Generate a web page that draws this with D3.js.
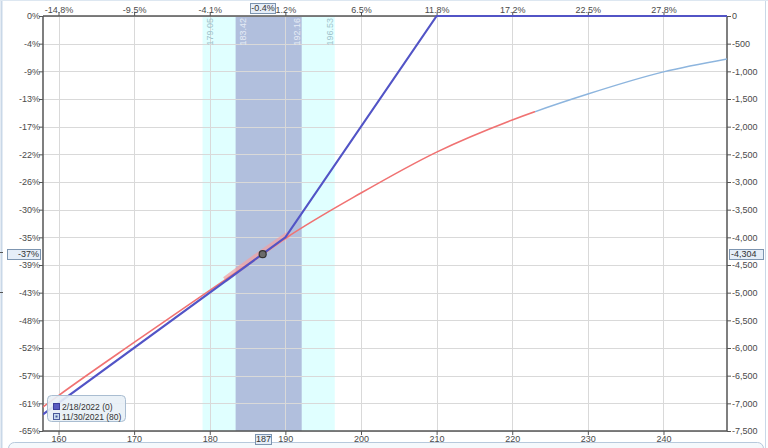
<!DOCTYPE html>
<html><head><meta charset="utf-8">
<script src="https://cdn.jsdelivr.net/npm/d3@7"></script>
<style>
html,body{margin:0;padding:0;background:#fff;}
svg{display:block;font-family:"Liberation Sans",Arial,sans-serif;}
</style></head>
<body><svg id="chart" width="768" height="448"></svg>
<script>
// ---- data ----
const xTicks = [160, 170, 180, 190, 200, 210, 220, 230, 240];
const topTickLabels = ["-14.8%", "-9.5%", "-4.1%", "1.2%", "6.5%", "11.8%", "17.2%", "22.5%", "27.8%"];
const yTicks = [0, -500, -1000, -1500, -2000, -2500, -3000, -3500, -4000, -4500, -5000, -5500, -6000, -6500, -7000, -7500];
const leftTickLabels = ["0%", "-4%", "-9%", "-13%", "-17%", "-22%", "-26%", "-30%", "-35%", "-39%", "-43%", "-48%", "-52%", "-57%", "-61%", "-65%"];
const rightTickLabels = ["0", "-500", "-1,000", "-1,500", "-2,000", "-2,500", "-3,000", "-3,500", "-4,000", "-4,500", "-5,000", "-5,500", "-6,000", "-6,500", "-7,000", "-7,500"];

const expPrices = [157.95, 190, 210, 248.4];
const expValues = [-7200, -4000, 0, 0];

const t0Prices = [157.95, 160, 170, 180, 187, 190, 200, 210, 220, 230, 240, 248.4];
const t0Values = [-7066, -6860, -5900, -4960, -4304, -4020, -3200, -2460, -1880, -1410, -1010, -777];
const t0RedLimit = 223; // red up to this price, light blue beyond

const innerBand = [183.42, 192.16];
const outerBand = [179.05, 196.53];

const currentPrice = 187;
const currentValue = -4304;
const currentPriceLabel = "187";
const currentTopLabel = "-0.4%";
const currentLeftLabel = "-37%";
const currentRightLabel = "-4,304";

const legendLabels = ["2/18/2022 (0)", "11/30/2021 (80)"];

// ---- layout ----
const L = 43, R = 727, T = 16, B = 431;
const svg = d3.select("#chart");
const x = d3.scaleLinear().domain([157.95, 248.4]).range([L, R]);
const y = d3.scaleLinear().domain([-7500, 0]).range([B, T]);

// frame
svg.append("line").attr("x1",1.5).attr("x2",1.5).attr("y1",0).attr("y2",448).attr("stroke","#c9d8e8").attr("stroke-width",2);
svg.append("line").attr("x1",765.5).attr("x2",765.5).attr("y1",0).attr("y2",448).attr("stroke","#c9d8e8").attr("stroke-width",1);
svg.append("line").attr("x1",0).attr("x2",768).attr("y1",0.5).attr("y2",0.5).attr("stroke","#dde7f1");
svg.append("rect").attr("x",8.5).attr("y",442.5).attr("width",755).attr("height",20).attr("rx",6)
  .attr("fill","#f5f9fc").attr("stroke","#b7c9dc");
svg.append("rect").attr("x",0).attr("y",252).attr("width",3).attr("height",1).attr("fill","#555");
svg.append("rect").attr("x",0).attr("y",292).attr("width",3).attr("height",1).attr("fill","#555");

// bands
svg.append("rect").attr("x",x(outerBand[0])).attr("y",T).attr("width",x(outerBand[1])-x(outerBand[0])).attr("height",B-T).attr("fill","#e0ffff");
svg.append("rect").attr("x",x(innerBand[0])).attr("y",T).attr("width",x(innerBand[1])-x(innerBand[0])).attr("height",B-T).attr("fill","#b1bfdd");

// grid
const grid = svg.append("g").attr("stroke","#d9d9d9").attr("stroke-width",1);
xTicks.forEach(v => grid.append("line").attr("x1",Math.round(x(v))+0.5).attr("x2",Math.round(x(v))+0.5).attr("y1",T).attr("y2",B));
yTicks.forEach(v => grid.append("line").attr("x1",L).attr("x2",R).attr("y1",Math.round(y(v))+0.5).attr("y2",Math.round(y(v))+0.5));

// band labels
function bandLabel(v, dx, col){
  svg.append("text").attr("transform",`translate(${x(v)+dx},18) rotate(-90)`)
    .attr("text-anchor","end").attr("font-size",9).attr("fill",col).text(v.toFixed(2));
}
bandLabel(outerBand[0], 10, "#9fc3cc");
bandLabel(innerBand[0], 10, "#e6ecf6");
bandLabel(innerBand[1], -2, "#e6ecf6");
bandLabel(outerBand[1], -2, "#9fc3cc");

// axes
const axisCol = "#555";
const gl = svg.append("g").attr("transform",`translate(${L},0)`).call(d3.axisLeft(y).tickValues(yTicks).tickSize(4).tickFormat((d,i)=>leftTickLabels[i]));
const gr = svg.append("g").attr("transform",`translate(${R},0)`).call(d3.axisRight(y).tickValues(yTicks).tickSize(4).tickFormat((d,i)=>rightTickLabels[i]));
const gb = svg.append("g").attr("transform",`translate(0,${B})`).call(d3.axisBottom(x).tickValues(xTicks).tickSize(4).tickFormat(d3.format("d")));
const gt = svg.append("g").attr("transform",`translate(0,${T})`).call(d3.axisTop(x).tickValues(xTicks).tickSize(4).tickFormat((d,i)=>topTickLabels[i]));
[gl,gr,gb,gt].forEach(g=>{
  g.selectAll(".domain").attr("stroke",axisCol).attr("stroke-width",1.5);
  g.selectAll(".tick line").attr("stroke",axisCol);
  g.selectAll("text").attr("fill","#4a4a4a").attr("font-size",9).attr("font-family","Liberation Sans, Arial, sans-serif");
});
gl.selectAll("text").attr("x",-3);
gr.selectAll("text").attr("x",5);
gb.selectAll("text").attr("y",5);
gt.selectAll("text").attr("y",-3);
gl.select(".domain").attr("d",`M0,${T}V${B}`);
gr.select(".domain").attr("d",`M0,${T}V${B}`);
gb.select(".domain").attr("d",`M${L},0H${R}`);
gt.select(".domain").attr("d",`M${L},0H${R}`);

// lines
const defs = svg.append("defs");
defs.append("clipPath").attr("id","plot").append("rect").attr("x",L).attr("y",T-3).attr("width",R-L).attr("height",B-T+3);
defs.append("clipPath").attr("id","redpart").append("rect").attr("x",L).attr("y",T-3).attr("width",x(t0RedLimit)-L).attr("height",B-T+3);
defs.append("clipPath").attr("id","bluepart").append("rect").attr("x",x(t0RedLimit)).attr("y",T-3).attr("width",R-x(t0RedLimit)).attr("height",B-T+3);

const t0 = t0Prices.map((p,i)=>[p,t0Values[i]]);
const exp = expPrices.map((p,i)=>[p,expValues[i]]);
const lineT0 = d3.line().x(d=>x(d[0])).y(d=>y(d[1])).curve(d3.curveMonotoneX);
const lineExp = d3.line().x(d=>x(d[0])).y(d=>y(d[1]));

// fuzz around current price
svg.append("path").attr("clip-path","url(#plot)").attr("d", d3.line().x(d=>x(d[0])).y(d=>y(d[1])-2).curve(d3.curveMonotoneX)([[182,-4800],[187,-4304],[190.5,-3975]]))
  .attr("fill","none").attr("stroke","#f5a0a0").attr("stroke-width",6).attr("opacity",0.7);

svg.append("path").attr("clip-path","url(#redpart)").attr("d",lineT0(t0)).attr("fill","none").attr("stroke","#f07272").attr("stroke-width",1.6);
svg.append("path").attr("clip-path","url(#bluepart)").attr("d",lineT0(t0)).attr("fill","none").attr("stroke","#8db5de").attr("stroke-width",1.4);
svg.append("path").attr("clip-path","url(#plot)").attr("d",lineExp(exp)).attr("fill","none").attr("stroke","#5254c6").attr("stroke-width",2.2);

// marker
svg.append("circle").attr("cx",x(currentPrice)).attr("cy",y(currentValue)).attr("r",3.5)
  .attr("fill","#6a6a6a").attr("stroke","#333").attr("stroke-width",1.2);

// highlight boxes (x0, width fixed)
function hbox(x0, w, cy, txt, anchor){
  const g = svg.append("g");
  g.append("rect").attr("x",x0+0.5).attr("y",Math.round(cy-5)+0.5).attr("width",w).attr("height",10)
    .attr("fill","#e6eef8").attr("stroke","#7d95b0");
  const t = g.append("text").attr("font-size",9).attr("fill","#333").attr("dominant-baseline","middle").attr("y",cy+0.5).text(txt);
  if(anchor==="end") t.attr("x",x0+w-1).attr("text-anchor","end");
  else if(anchor==="start") t.attr("x",x0+2);
  else t.attr("x",x0+w/2+0.5).attr("text-anchor","middle");
}
hbox(7, 33, y(currentValue), currentLeftLabel, "end");
hbox(729, 34, y(currentValue), currentRightLabel, "start");
hbox(Math.round(x(currentPrice))-8, 16, 439, currentPriceLabel, "middle");
hbox(Math.round(x(currentPrice))-13, 25, 8, currentTopLabel, "middle");

// legend
const lg = svg.append("g");
lg.append("rect").attr("x",47.5).attr("y",395.5).attr("width",78).attr("height",26).attr("rx",4)
  .attr("fill","#e8eff6").attr("fill-opacity",0.9).attr("stroke","#a9bdd1");
lg.append("rect").attr("x",53.5).attr("y",403.5).attr("width",6).attr("height",6).attr("fill","#5a5cc0").attr("stroke","#3d3f9a");
lg.append("rect").attr("x",53.5).attr("y",413.5).attr("width",6).attr("height",6).attr("fill","#c8dcf0").attr("stroke","#4a5a9a");
lg.append("rect").attr("x",55.5).attr("y",415.5).attr("width",2).attr("height",2).attr("fill","#4a5a9a");
legendLabels.forEach((s,i)=>lg.append("text").attr("x",62).attr("y",409.5+i*10).attr("font-size",8.5).attr("fill","#333").text(s));
</script></body></html>
